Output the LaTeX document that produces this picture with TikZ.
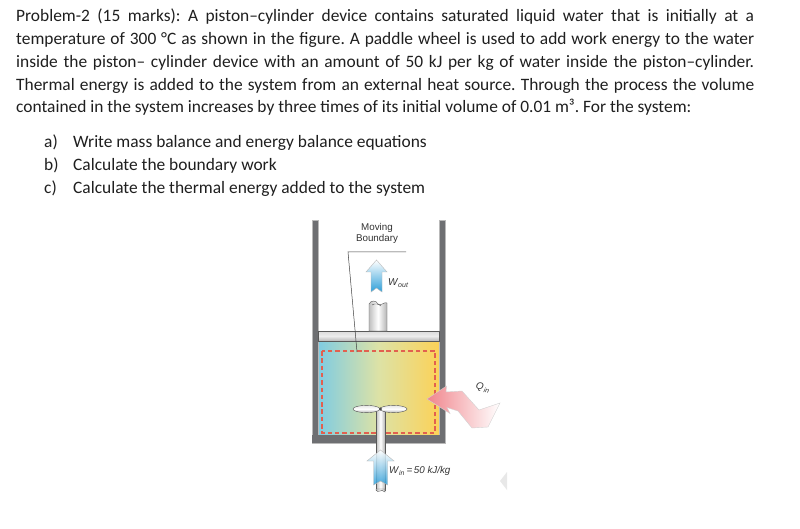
\documentclass[tikz,border=0pt]{standalone}
\usepackage{fontspec}
\setmainfont{Carlito}
\newfontfamily\figfont{Liberation Sans}
\definecolor{txt}{HTML}{1F1F1F}
\definecolor{wallc}{HTML}{6E6F72}
\definecolor{liqL}{HTML}{7FCCE2}
\definecolor{liqM}{HTML}{DDE2A6}
\definecolor{liqR}{HTML}{FCD258}
\definecolor{dashc}{HTML}{E2604F}
\definecolor{arrB}{HTML}{2E9FD9}
\definecolor{qpink}{HTML}{F0858C}
\begin{document}
\frenchspacing
\begin{tikzpicture}[x=1pt,y=-1pt,
  bodytext/.style={anchor=base west, inner sep=0, text=txt, font=\fontsize{17.4}{20}\selectfont},
  figtext/.style={inner sep=0, text=black!80, font=\figfont\fontsize{9.8}{11}\selectfont},
  wallstyle/.style={fill=wallc, draw=gray!55, line width=0.5pt},
  rodstyle/.style={left color=gray!50, right color=gray!60, middle color=white, draw=gray!70!black, line width=0.4pt},
  workarrow/.style={top color=white, bottom color=arrB, draw=gray!55, line width=0.4pt},
  leader/.style={draw=black!75, line width=0.5pt}]
\useasboundingbox (0,0) rectangle (800,529);
\fill[white] (0,0) rectangle (800,529);

% ---- problem text ----
\node[bodytext] (l1) at (16,21.7) {\makebox[738pt][s]{Problem-2 (15 marks): A piston–cylinder device contains saturated liquid water that is initially at a}};
\node[bodytext] (l2) at (16,44.5) {\makebox[738pt][s]{temperature of 300 °C as shown in the figure. A paddle wheel is used to add work energy to the water}};
\node[bodytext] (l3) at (16,67.3) {\makebox[738pt][s]{inside the piston– cylinder device with an amount of 50 kJ per kg of water inside the piston–cylinder.}};
\node[bodytext] (l4) at (16,90.1) {\makebox[738pt][s]{Thermal energy is added to the system from an external heat source. Through the process the volume}};
\node[bodytext] (l5) at (16,112.9) {contained in the system increases by three times of its initial volume of 0.01 m³. For the system:};

\node[bodytext] (a) at (44,147.3) {a)};
\node[bodytext] (at) at (73,147.3) {Write mass balance and energy balance equations};
\node[bodytext] (b) at (44,170.3) {b)};
\node[bodytext] (bt) at (73,170.3) {Calculate the boundary work};
\node[bodytext] (c) at (44,193.3) {c)};
\node[bodytext] (ct) at (73,193.3) {Calculate the thermal energy added to the system};

% ---- liquid ----
\shade[left color=liqL, right color=liqR, middle color=liqM] (318,341) rectangle (439,435);
\draw[dashc, line width=1.1pt, dash pattern=on 4.5pt off 2.8pt] (322,351) rectangle (435,433);

% ---- walls ----
\path[wallstyle] (312,220) rectangle (318,443);
\path[wallstyle] (439,220) rectangle (445,443);
\path[wallstyle] (312,435) rectangle (445,443);
\fill[wallc] (312.3,435.3) rectangle (444.7,442.7);

% ---- piston ----
\shade[top color=gray!28, bottom color=gray!55, middle color=gray!15, draw=gray!70!black, line width=0.4pt] (318,331) rectangle (439,341);

% ---- piston rod ----
\path[rodstyle] (369,331) -- (369,304) .. controls (371,300) and (376,300) .. (378,304) .. controls (380,307) and (385,301) .. (387,303) -- (387,331) -- cycle;
\draw[gray!60!black, line width=0.4pt] (372,305) .. controls (375,303) and (379,304) .. (381,306);

% ---- moving boundary label and leader ----
\node[figtext, align=center] (mb) at (377,233) {Moving\\Boundary};
\coordinate (mbR) at (406,252);
\coordinate (mbL) at (348,252);
\coordinate (mbE) at (357,352);
\draw[leader] (mbR) -- (mbL) -- (mbE);

% ---- W_out arrow ----
\path[workarrow] (371,292) -- (371,272) -- (366,272) -- (376.5,260) -- (387,272) -- (382,272) -- (382,292) -- (376.5,288) -- cycle;
\node[figtext, anchor=west, font=\figfont\itshape\fontsize{10}{11}\selectfont] (wout) at (388,283) {W\kern0.6pt\textsubscript{out}};

% ---- paddle wheel shaft ----
\path[rodstyle] (376,409) rectangle (385,490);
\path[rodstyle] (376,490) .. controls (378,494) and (381,488) .. (385,492) -- (385,489) -- (376,489) -- cycle;
\shade[top color=gray!20, bottom color=gray!55, middle color=white, draw=gray!65!black, line width=0.4pt] (366.5,409) ellipse [x radius=13.5, y radius=3.6];
\shade[top color=gray!20, bottom color=gray!55, middle color=white, draw=gray!65!black, line width=0.4pt] (393.5,409) ellipse [x radius=13.5, y radius=3.6];
\fill[gray!60!black] (380.5,409) circle [radius=1.6];

% ---- W_in arrow ----
\path[workarrow, fill opacity=0.85] (373.5,485) -- (373.5,461) -- (367,461) -- (380.5,450) -- (394,461) -- (387.5,461) -- (387.5,485) -- (380.5,481) -- cycle;
\node[figtext, anchor=west, font=\figfont\itshape\fontsize{9.8}{11}\selectfont] (win) at (389,471) {W\kern0.6pt\textsubscript{in}\,=\,50 kJ/kg};

% ---- Q_in arrow ----
\path[left color=qpink, right color=white, draw=gray!35, line width=0.4pt]
  (427,399) -- (446.5,386) -- (446,392) -- (462,391) -- (479,410) -- (500,403) -- (488,427) -- (472,428) -- (458,411) -- (447,407.5) -- (450,413.5) -- cycle;
\node[figtext, rotate=-14, font=\figfont\itshape\fontsize{9.8}{11}\selectfont] (qin) at (483,388) {Q\kern1.2pt\textsubscript{in}};

% ---- small grey triangle ----
\fill[gray!18] (500,481) -- (507,472) -- (507,490) -- cycle;
\end{tikzpicture}
\end{document}
